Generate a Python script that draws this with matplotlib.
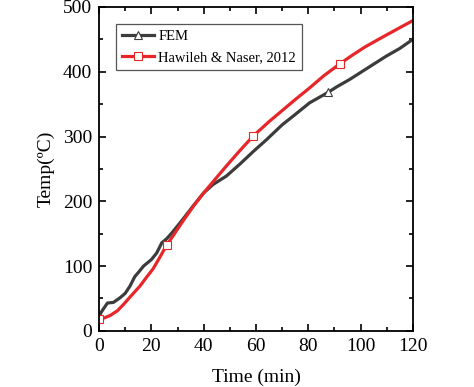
import numpy as np
import matplotlib.pyplot as plt
from matplotlib.ticker import MultipleLocator

# FEM curve
fem_t = [0, 1, 3.2, 5.5, 8, 10, 11.8, 13.7, 15, 17, 20, 22, 24, 25.8, 28, 32, 36, 40, 43.6, 48.7,
         54, 59, 64, 70, 75, 80.5, 87.5, 91, 95.8, 102, 109.8, 115, 120]
fem_T = [22.6, 30, 43, 44, 51, 58, 69, 84, 90, 100, 110, 120, 136, 142, 152, 172, 193, 213, 226, 239,
         258, 277, 295, 318, 334, 352, 368, 377, 388, 404, 424, 436, 450]

# Hawileh & Naser, 2012
ref_t = [0, 2, 4.2, 7, 9.3, 12, 15.6, 18, 20.7, 23, 25.8, 29, 32, 36, 40, 45, 49, 54, 59,
         65, 70, 75, 80.5, 86, 92, 97, 102, 110, 115, 120]
ref_T = [18.5, 20, 23.7, 31, 40.6, 53, 69, 82, 96, 112, 132, 151, 169, 192, 213, 237, 256, 279, 301,
         323, 340, 357, 375, 394, 412, 426, 439, 457, 468, 479]

fig = plt.figure(figsize=(4.74, 3.87), dpi=100)
ax = fig.add_axes([0.209, 0.145, 0.662, 0.837])
plt.rcParams['font.family'] = 'Liberation Serif'

ax.plot(fem_t, fem_T, color='#3c3c3c', lw=2.3, marker='^', ms=6, mfc='white',
        mec='#3c3c3c', mew=0.8, markevery=[0, 26], label='FEM')
ax.plot(ref_t, ref_T, color='#e8262a', lw=2.3, marker='s', ms=5.5, mfc='white',
        mec='#e8262a', mew=0.8, markevery=[0, 10, 18, 24], label='Hawileh & Naser, 2012')

ax.set_xlim(0, 120)
ax.set_ylim(0, 500)
ax.xaxis.set_major_locator(MultipleLocator(20))
ax.xaxis.set_minor_locator(MultipleLocator(10))
ax.yaxis.set_major_locator(MultipleLocator(100))
ax.yaxis.set_minor_locator(MultipleLocator(50))
ax.tick_params(which='both', direction='in', top=True, right=True, width=1.2,
               labelsize=14, labelfontfamily='Liberation Serif')
ax.tick_params(which='major', length=5, pad=5)
ax.tick_params(which='minor', length=3)
for s in ax.spines.values():
    s.set_linewidth(1.3)

ax.set_xlabel('Time (min)', fontsize=14, family='Liberation Serif', labelpad=10)
ax.set_ylabel('Temp(ºC)', fontsize=14, family='Liberation Serif', labelpad=6)

leg = ax.legend(loc='upper left', bbox_to_anchor=(0.054, 0.948), fancybox=False,
                edgecolor='#555555', framealpha=1, handlelength=2.2,
                prop={'family': 'Liberation Serif', 'size': 10.5},
                borderpad=0.4, labelspacing=0.55, handletextpad=0.3,
                borderaxespad=0)
leg.get_frame().set_linewidth(0.9)

fig.savefig('out.png', dpi=100)
